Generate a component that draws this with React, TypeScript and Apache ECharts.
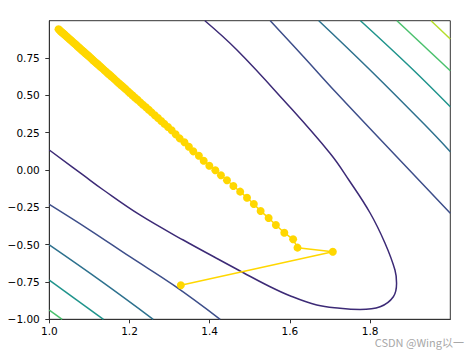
import React, { useEffect, useRef } from 'react';
import * as echarts from 'echarts';

const xTicks = [1.0, 1.2, 1.4, 1.6, 1.8];
const yTicks = [-1.0, -0.75, -0.5, -0.25, 0, 0.25, 0.5, 0.75];

// contour levels, innermost first
const level1 = [
  [1.000, 0.134], [1.084, -0.033], [1.135, -0.134], [1.226, -0.301], [1.334, -0.469],
  [1.417, -0.591], [1.484, -0.688], [1.542, -0.770], [1.600, -0.842], [1.667, -0.904],
  [1.725, -0.926], [1.775, -0.934], [1.825, -0.916], [1.858, -0.849], [1.866, -0.759],
  [1.862, -0.670], [1.837, -0.489], [1.800, -0.288], [1.747, -0.067], [1.700, 0.112],
  [1.584, 0.469], [1.468, 0.804], [1.388, 1.000],
];
const level2Upper = [[1.551, 1.000], [1.634, 0.759], [1.717, 0.514], [1.867, 0.087], [2.000, -0.290]];
const level2Lower = [
  [1.000, -0.230], [1.101, -0.402], [1.201, -0.581], [1.309, -0.770], [1.426, -1.000],
];
const level3Upper = [[1.672, 1.000], [1.800, 0.670], [1.937, 0.301], [2.000, 0.123]];
const level3Lower = [[1.000, -0.502], [1.131, -0.748], [1.259, -1.000]];
const level4Upper = [[1.776, 1.000], [1.900, 0.690], [2.000, 0.424]];
const level4Lower = [[1.000, -0.737], [1.135, -1.000]];
const level5Upper = [[1.867, 1.000], [2.000, 0.665]];
const level5Lower = [[1.000, -0.938], [1.032, -1.000]];
const level6Upper = [[1.952, 1.000], [2.000, 0.877]];

const levelColors = ['#3c2a76', '#3d4e8a', '#2d718e', '#1f948c', '#4ac16d', '#b5de2b'];

// gradient descent path
const pathPoints = [
  [1.328, -0.772], [1.707, -0.547], [1.619, -0.520], [1.608, -0.464], [1.586, -0.420],
  [1.565, -0.368], [1.547, -0.321], [1.527, -0.275], [1.510, -0.228], [1.493, -0.186],
  [1.476, -0.145], [1.459, -0.107], [1.443, -0.069], [1.428, -0.035], [1.414, -0.002],
  [1.399, 0.029], [1.385, 0.062], [1.373, 0.096], [1.359, 0.125], [1.348, 0.156],
  [1.337, 0.186], [1.325, 0.212], [1.315, 0.239], [1.305, 0.266], [1.296, 0.288],
  [1.287, 0.309], [1.279, 0.328], [1.271, 0.348], [1.263, 0.367], [1.255, 0.386],
  [1.248, 0.403], [1.241, 0.420], [1.234, 0.436], [1.227, 0.453], [1.220, 0.470],
  [1.214, 0.484], [1.208, 0.499], [1.202, 0.513], [1.196, 0.528], [1.190, 0.542],
  [1.185, 0.554], [1.180, 0.566], [1.175, 0.578], [1.170, 0.590], [1.165, 0.602],
  [1.160, 0.614], [1.155, 0.626], [1.151, 0.636], [1.147, 0.645], [1.143, 0.655],
  [1.139, 0.664], [1.135, 0.674], [1.131, 0.684], [1.127, 0.693], [1.123, 0.703],
  [1.120, 0.710], [1.117, 0.717], [1.114, 0.724], [1.110, 0.734], [1.107, 0.741],
  [1.104, 0.748], [1.101, 0.756], [1.098, 0.763], [1.095, 0.770], [1.092, 0.777],
  [1.089, 0.784], [1.086, 0.792], [1.083, 0.799], [1.080, 0.806], [1.077, 0.813],
  [1.074, 0.820], [1.071, 0.828], [1.068, 0.835], [1.065, 0.842], [1.062, 0.849],
  [1.059, 0.856], [1.056, 0.864], [1.053, 0.871], [1.050, 0.878], [1.047, 0.885],
  [1.044, 0.892], [1.041, 0.900], [1.038, 0.907], [1.035, 0.914], [1.032, 0.921],
  [1.029, 0.928], [1.026, 0.936], [1.023, 0.943],
];

const contours: { pts: number[][]; level: number }[] = [
  { pts: level1, level: 0 },
  { pts: level2Upper, level: 1 },
  { pts: level2Lower, level: 1 },
  { pts: level3Upper, level: 2 },
  { pts: level3Lower, level: 2 },
  { pts: level4Upper, level: 3 },
  { pts: level4Lower, level: 3 },
  { pts: level5Upper, level: 4 },
  { pts: level5Lower, level: 4 },
  { pts: level6Upper, level: 5 },
];

const fmt = (v: number, d: number) => (v < 0 ? '\u2212' + Math.abs(v).toFixed(d) : v.toFixed(d));

export default function App() {
  const ref = useRef<HTMLDivElement>(null);
  useEffect(() => {
    if (!ref.current) return;
    const chart = echarts.init(ref.current, undefined, { renderer: 'svg' });
    const font = 'DejaVu Sans';
    const series: any[] = contours.map((c) => ({
      type: 'line',
      data: c.pts,
      symbol: 'none',
      smooth: 0.4,
      clip: true,
      lineStyle: { color: levelColors[c.level], width: 1.5 },
      z: 2,
    }));
    series.push({
      type: 'line',
      data: pathPoints,
      symbol: 'circle',
      symbolSize: 8,
      clip: true,
      itemStyle: { color: '#ffd700' },
      lineStyle: { color: '#ffd700', width: 1.5 },
      z: 5,
    });
    chart.setOption({
      animation: false,
      backgroundColor: '#fff',
      grid: {
        left: 49.3,
        right: 23.7,
        top: 20.7,
        bottom: 35.7,
        show: true,
        borderColor: '#333',
        borderWidth: 1,
        containLabel: false,
        outerBoundsMode: 'none',
      },
      xAxis: {
        type: 'value',
        min: 1.0,
        max: 2.0,
        axisLine: { show: true, onZero: false, lineStyle: { color: '#333', width: 1 } },
        splitLine: { show: false },
        axisTick: { show: true, length: 4, lineStyle: { color: '#333' }, customValues: xTicks },
        axisLabel: {
          customValues: xTicks,
          formatter: (v: number) => fmt(v, 1),
          color: '#000',
          fontFamily: font,
          fontSize: 10.5,
          margin: 6.5,
        },
      },
      yAxis: {
        type: 'value',
        min: -1.0,
        max: 1.0,
        axisLine: { show: true, onZero: false, lineStyle: { color: '#333', width: 1 } },
        splitLine: { show: false },
        axisTick: { show: true, length: 4, lineStyle: { color: '#333' }, customValues: yTicks },
        axisLabel: {
          customValues: yTicks,
          formatter: (v: number) => fmt(v, 2),
          color: '#000',
          fontFamily: font,
          fontSize: 10.5,
          margin: 9.5,
        },
      },
      graphic: [
        {
          type: 'text',
          right: 10,
          top: 336,
          style: {
            text: 'CSDN @Wing以一',
            fill: '#a8a8a8',
            font: '11px "Noto Sans CJK SC", "DejaVu Sans", sans-serif',
          },
          z: 10,
        },
      ],
      series,
    });
    return () => chart.dispose();
  }, []);
  return (
    <div
      ref={ref}
      style={{ position: 'fixed', left: 0, top: 0, width: 474, height: 355 }}
    />
  );
}
